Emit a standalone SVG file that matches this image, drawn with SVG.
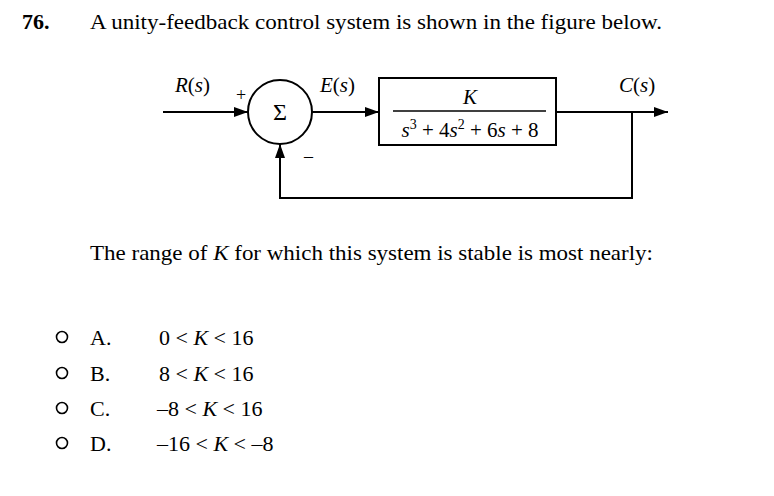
<svg xmlns="http://www.w3.org/2000/svg" width="774" height="496" viewBox="0 0 774 496">
<style>
text{font-family:"Liberation Serif",serif;fill:#000}
.t{font-size:22px}
.i{font-style:italic}
.l{stroke:#000;stroke-width:2;fill:none}
</style>
<defs><marker id="a" markerWidth="14" markerHeight="10" refX="14" refY="5" orient="auto" markerUnits="userSpaceOnUse"><path d="M0,0L14,5L0,10z" fill="#000"/></marker></defs>
<rect width="774" height="496" fill="#fff"/>
<text x="22" y="29" class="t" font-weight="bold">76.</text>
<text x="90" y="29" class="t" textLength="572" lengthAdjust="spacingAndGlyphs">A unity-feedback control system is shown in the figure below.</text>
<g id="sum"><circle cx="280" cy="112" r="32" class="l"/><text x="280" y="120" font-size="24" text-anchor="middle">Σ</text>
<text x="236" y="101" font-size="18">+</text><text x="304" y="162" font-size="18">–</text></g>
<g id="plant"><rect x="379" y="78" width="177" height="67" class="l"/>
<text x="470" y="104" font-size="21" class="i" text-anchor="middle">K</text>
<line x1="393" y1="111" x2="546" y2="111" stroke="#000" stroke-width="1.5"/>
<text x="470" y="137" font-size="21" text-anchor="middle"><tspan class="i">s</tspan><tspan font-size="14" dy="-8">3</tspan><tspan dy="8"> + 4</tspan><tspan class="i">s</tspan><tspan font-size="14" dy="-8">2</tspan><tspan dy="8"> + 6</tspan><tspan class="i">s</tspan> + 8</text></g>
<g id="labels" font-size="21">
<text x="175" y="92"><tspan class="i">R</tspan>(<tspan class="i">s</tspan>)</text>
<text x="320" y="92"><tspan class="i">E</tspan>(<tspan class="i">s</tspan>)</text>
<text x="619" y="92"><tspan class="i">C</tspan>(<tspan class="i">s</tspan>)</text></g>
<g id="connectors">
<line x1="163" y1="112" x2="248" y2="112" class="l" marker-end="url(#a)"/>
<line x1="312" y1="112" x2="379" y2="112" class="l" marker-end="url(#a)"/>
<line x1="556" y1="112" x2="668" y2="112" class="l" marker-end="url(#a)"/>
<polyline points="632,112 632,198 280,198 280,144" class="l" marker-end="url(#a)"/>
</g>
<text x="90" y="260" class="t" textLength="563" lengthAdjust="spacingAndGlyphs">The range of <tspan class="i">K</tspan> for which this system is stable is most nearly:</text>
<g id="options" class="t">
<g fill="none" stroke="#000" stroke-width="1.6"><circle cx="62" cy="337" r="5.5"/><circle cx="62" cy="373" r="5.5"/><circle cx="62" cy="408" r="5.5"/><circle cx="62" cy="443" r="5.5"/></g>
<text x="90" y="345">A.</text><text x="90" y="381">B.</text><text x="90" y="416">C.</text><text x="90" y="451">D.</text>
<text x="159" y="345">0 &lt; <tspan class="i">K</tspan> &lt; 16</text>
<text x="159" y="381">8 &lt; <tspan class="i">K</tspan> &lt; 16</text>
<text x="157" y="416">–8 &lt; <tspan class="i">K</tspan> &lt; 16</text>
<text x="157" y="451">–16 &lt; <tspan class="i">K</tspan> &lt; –8</text>
</g>
</svg>
